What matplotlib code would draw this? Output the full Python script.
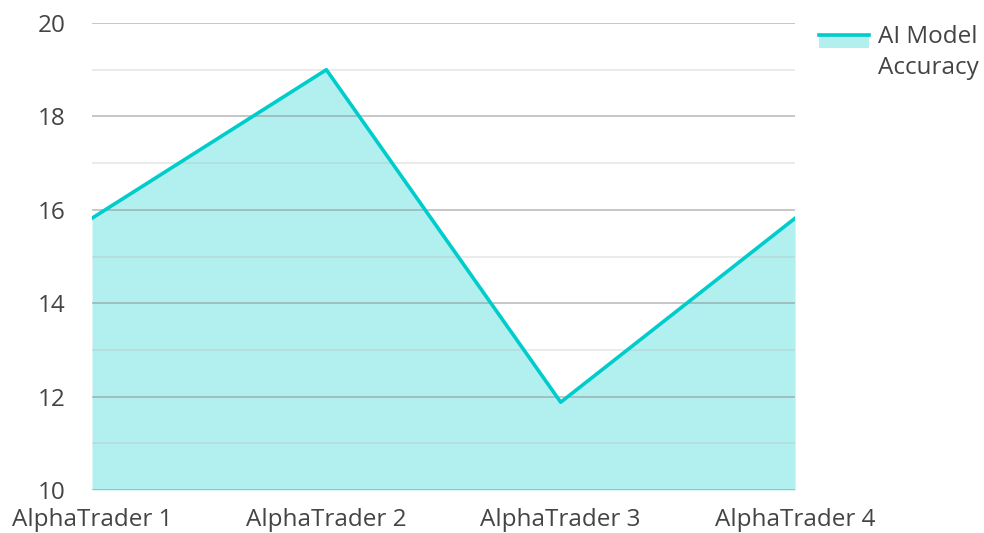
import matplotlib.pyplot as plt
from matplotlib.lines import Line2D
from matplotlib.patches import Rectangle

plt.rcParams['font.family'] = ['Open Sans', 'DejaVu Sans']

traders = ['AlphaTrader 1', 'AlphaTrader 2', 'AlphaTrader 3', 'AlphaTrader 4']
accuracy = [15.82, 19.0, 11.88, 15.82]
y_ticks = [10, 12, 14, 16, 18, 20]
y_minor = [11, 13, 15, 17, 19]
legend_lines = ['AI Model', 'Accuracy']

line_color = '#00cccc'
fill_color = '#b2efef'
text_color = '#444444'

W, H = 984, 533
fig = plt.figure(figsize=(W / 100, H / 100), dpi=100)
ax = fig.add_axes([0.0935, 0.0807, 0.7145, 0.8761])

x = list(range(len(traders)))
ax.fill_between(x, 10, accuracy, color=fill_color, zorder=1, linewidth=0)
ax.plot(x, accuracy, color=line_color, linewidth=2.6, zorder=3)

ax.set_xlim(0, len(traders) - 1)
ax.set_ylim(10, 20)
ax.set_xticks(x)
ax.set_xticklabels(traders)
ax.set_yticks(y_ticks)
ax.set_yticks(y_minor, minor=True)
ax.grid(True, which='major', axis='y', color='#888888', alpha=0.5, linewidth=1.3, zorder=2)
ax.grid(True, which='minor', axis='y', color='#bbbbbb', alpha=0.35, linewidth=1.2, zorder=2)
ax.set_axisbelow(False)
for s in ax.spines.values():
    s.set_visible(False)
ax.tick_params(axis='both', which='both', length=0, labelsize=17.5, labelcolor=text_color)
ax.tick_params(axis='y', pad=19)
ax.tick_params(axis='x', pad=13)

# legend drawn by hand: swatch sits beside the first line of the label
fig.add_artist(Rectangle((819 / W, 1 - 47.5 / H), 50 / W, 14 / H,
                         transform=fig.transFigure, facecolor=fill_color, edgecolor='none'))
fig.add_artist(Line2D([819 / W, 869 / W], [1 - 35 / H, 1 - 35 / H],
                      transform=fig.transFigure, color=line_color, linewidth=2.6))
fig.text(878 / W, 1 - 43 / H, legend_lines[0], fontsize=17.5, color=text_color, va='baseline')
fig.text(878 / W, 1 - 74 / H, legend_lines[1], fontsize=17.5, color=text_color, va='baseline')

fig.savefig('out.png', dpi=100)
